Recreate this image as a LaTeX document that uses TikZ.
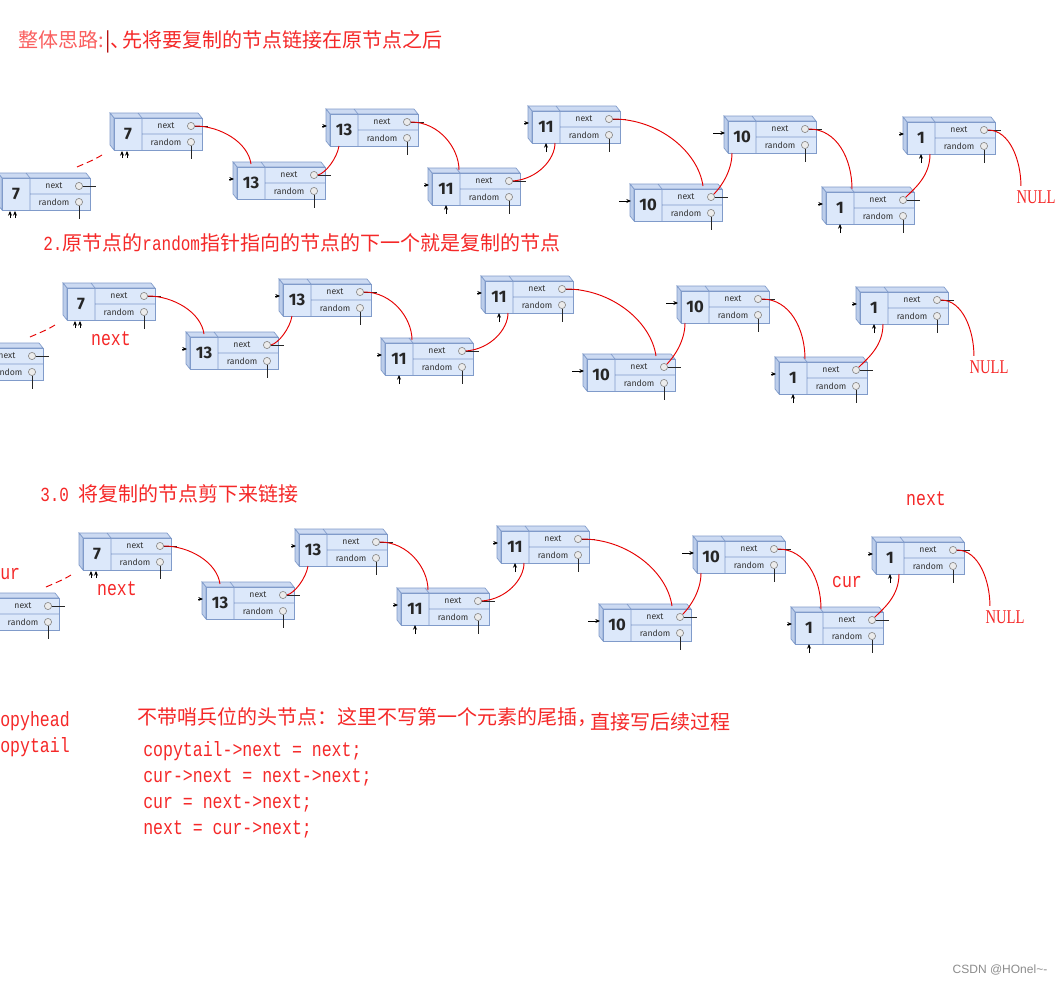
\documentclass[tikz,border=0pt]{standalone}
\usepackage{fontspec}
\setmainfont{Liberation Serif}
\setsansfont{Fira Sans}
\newfontfamily\cjk{Noto Sans CJK SC}
\newfontfamily\simfont[FakeStretch=0.8]{Liberation Mono}
\newfontfamily\nulltextfont[FakeStretch=0.75]{Liberation Serif}
\newfontfamily\markfont{Liberation Sans}
\usetikzlibrary{arrows.meta,calc}

\definecolor{boxfront}{RGB}{220,232,250}
\definecolor{boxtop}{RGB}{204,218,242}
\definecolor{boxside}{RGB}{188,205,234}
\definecolor{boxline}{RGB}{128,155,202}
\definecolor{redtext}{RGB}{245,40,40}
\definecolor{titlepink}{RGB}{250,95,95}
\definecolor{linkred}{RGB}{230,0,0}

% one list node: name, x, y, value
\newcommand{\listnode}[4]{%
  \begin{scope}[shift={(#2,#3)}]
    \filldraw[box top] (0,0) -- (88,0) -- (92,5) -- (4,5) -- cycle;
    \filldraw[box side] (0,0) -- (4,5) -- (4,37) -- (0,32) -- cycle;
    \filldraw[box front] (4,5) rectangle (92,37);
    \draw[box line] (28,0) -- (32,5) -- (32,37) (32,21) -- (92,21);
    \node[valtext] (#1) at (18,21) {#4};
    \node[fieldtext] (#1-nl) at (56,13) {next};
    \node[fieldtext] (#1-rl) at (56,29) {random};
    \draw[stub] (85,13) -- (98,13) (81,33) -- (81,46);
    \node[ptr] (#1-n) at (81,13) {};
    \node[ptr] (#1-r) at (81,29) {};
    \coordinate (#1-top) at (18,2);
    \coordinate (#1-bot) at (18,37);
    \coordinate (#1-west) at (1,17);
  \end{scope}}

\begin{document}
\begin{tikzpicture}[x=0.75pt,y=-0.75pt,
  box top/.style={fill=boxtop,draw=boxline,line width=0.5pt},
  box side/.style={fill=boxside,draw=boxline,line width=0.5pt},
  box front/.style={fill=boxfront,draw=boxline,line width=0.5pt},
  box line/.style={draw=boxline,line width=0.5pt},
  valtext/.style={inner sep=0pt,text=black!85,font=\sffamily\bfseries\fontsize{12.5}{13}\selectfont},
  fieldtext/.style={inner sep=0pt,text=black!80,font=\sffamily\fontsize{6.5}{7}\selectfont},
  ptr/.style={circle,draw=black!45,fill=black!8,inner sep=0pt,minimum size=5.4pt,line width=0.5pt},
  stub/.style={draw=black!85,line width=0.6pt},
  tick/.style={-{Stealth[length=3.5pt,width=3pt]},line width=0.6pt},
  uptip/.style={-{Stealth[length=3.5pt,width=3pt]},line width=0.6pt},
  redlink/.style={draw=linkred,line width=0.7pt},
  heading/.style={anchor=west,inner sep=0pt,text=redtext,font=\cjk\fontsize{15}{18}\selectfont},
  codetext/.style={anchor=west,inner sep=0pt,text=redtext,font=\simfont\fontsize{15.5}{18}\selectfont},
  redlabel/.style={inner sep=0pt,text=redtext,font=\simfont\fontsize{15.5}{18}\selectfont},
  nulltext/.style={inner sep=1pt,text=redtext,font=\nulltextfont\fontsize{14.6}{16}\selectfont}]

\fill[white] (0,0) rectangle (1063,985);
\useasboundingbox (0,0) rectangle (1063,985);
\clip (0,0) rectangle (1063,985);

% headings
\node[heading] (title) at (18,42) {{\color{titlepink}整体思路:}\kern1pt\textcolor{red!70!black}{|}、\kern-6pt 先将要复制的节点链接在原节点之后};
\node[heading] (step2) at (43,243) {{\simfont 2.}原节点的{\simfont random}指针指向的节点的下一个就是复制的节点};
\node[heading] (step3) at (40,494) {{\simfont 3.0 }将复制的节点剪下来链接};

% the three rows of the list
\foreach \r/\dx/\dy in {1/0/0,2/-47/170,3/-31/420}{
  \begin{scope}[shift={(\dx,\dy)}]
    \listnode{A\r}{-2}{173}{7}
    \listnode{B\r}{110}{113}{7}
    \listnode{C\r}{233}{162}{13}
    \listnode{D\r}{326}{109}{13}
    \listnode{E\r}{428}{168}{11}
    \listnode{F\r}{528}{106}{11}
    \listnode{G\r}{630}{184}{10}
    \listnode{H\r}{724}{116}{10}
    \listnode{I\r}{822}{187}{1}
    \listnode{J\r}{903}{117}{1}
    \node[nulltext] (NULL\r) at (1036,197) {NULL};
  \end{scope}
  % black marks
  \foreach \m in {C,D,E,F,I,J}
    \draw[tick] ($(\m\r-west)+(-5,0)$) -- (\m\r-west);
  \foreach \m in {G,H}
    \draw[tick] ($(\m\r-west)+(-12,0)$) -- (\m\r-west);
  \foreach \m in {E,F,I,J}
    \draw[uptip] ($(\m\r-bot)+(0,9)$) -- (\m\r-bot);
  \foreach \m in {A,B}{
    \draw[uptip] ($(\m\r-bot)+(-6,8)$) -- ($(\m\r-bot)+(-6,1)$);
    \draw[uptip] ($(\m\r-bot)+(-1,8)$) -- ($(\m\r-bot)+(-1,1)$);
  }
  % red links
  \draw[redlink,dash pattern=on 5pt off 3pt] ($(A\r-n)+(-2,-19)$) .. controls +(9,-4) and +(-8,5) .. ($(B\r-bot)+(-26,5)$);
  \draw[redlink] (B\r-n.east) .. controls +(25,0) and +(-3,-22) .. (C\r-top);
  \draw[redlink] (C\r-n.east) .. controls +(8,-2) and +(-2,12) .. ($(D\r-bot)+(-5,0)$);
  \draw[redlink] (D\r-n.east) .. controls +(28,0) and +(0,-22) .. ($(E\r-top)+(13,0)$);
  \draw[redlink] (E\r-n.east) .. controls +(25,-2) and +(0,16) .. ($(F\r-bot)+(9,0)$);
  \draw[redlink] (F\r-n.east) .. controls +(45,0) and +(-5,-35) .. ($(G\r-top)+(55,0)$);
  \draw[redlink] (G\r-n) .. controls +(10,-10) and +(0,18) .. ($(H\r-bot)+(-10,0)$);
  \draw[redlink] (H\r-n.east) .. controls +(28,0) and +(0,-30) .. ($(I\r-top)+(12,0)$);
  \draw[redlink] (I\r-n) .. controls +(12,-12) and +(0,22) .. ($(J\r-bot)+(9,0)$);
  \draw[redlink] (J\r-n.east) .. controls +(22,0) and +(0,-25) .. ($(NULL\r.north west)+(6,-3)$);
}

% pointer names
\node[redlabel] (next2) at (111,339) {next};
\node[redlabel,anchor=west] (cur3) at (0,574) {ur};
\node[redlabel] (next3) at (117,589) {next};
\node[redlabel] (curR) at (847,582) {cur};
\node[redlabel] (nextR) at (926,499) {next};

% notes and code
\node[codetext] (head) at (0,721) {opyhead};
\node[codetext] (tail) at (0,747) {opytail};
\node[heading] (note) at (137,717) {不带哨兵位的头节点：这里不写第一个元素的尾插，};
\node[heading] (note2) at (590,722) {直接写后续过程};
\node[codetext] (code1) at (143,751) {copytail->next = next;};
\node[codetext] (code2) at (143,777) {cur->next = next->next;};
\node[codetext] (code3) at (143,803) {cur = next->next;};
\node[codetext] (code4) at (143,829) {next = cur->next;};

\node[text=black!45,font=\markfont\fontsize{9}{10}\selectfont] (mark) at (1000,970) {CSDN @HOnel\textasciitilde-};
\end{tikzpicture}
\end{document}
